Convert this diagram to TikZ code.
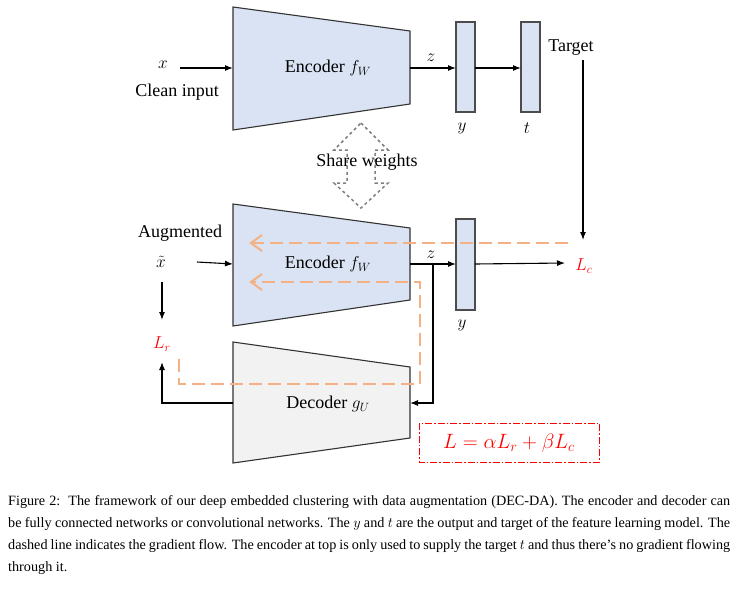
\documentclass[tikz,border=0pt]{standalone}
\usepackage{fontspec}
\setmainfont{Liberation Serif}
\usetikzlibrary{arrows.meta}
\definecolor{encb}{HTML}{DAE3F3}
\definecolor{decg}{HTML}{F2F2F2}
\definecolor{org}{HTML}{F4B183}
\begin{document}
\begin{tikzpicture}[x=1pt,y=-1pt,
  lbl/.style={font=\fontsize{18}{21}\selectfont,inner sep=1pt},
  arr/.style={-{Latex[length=8pt,width=6pt]},line width=1.1pt},
  od/.style={org,line width=2pt,dash pattern=on 13pt off 6pt},
  bar/.style={draw=black!70,fill=encb,line width=1.1pt}]
\useasboundingbox (0,0) rectangle (746,613);
% top encoder
\draw[fill=encb,draw=black!80,line width=1.1pt] (233,7) -- (410,31) -- (410,104) -- (233,130) -- cycle;
\node[lbl] (enc1) at (328,68) {Encoder $f_W$};
\draw[bar] (456,22) rectangle (475,112); \coordinate (y1l) at (456,68); \coordinate (y1r) at (475,68);
\draw[bar] (521,22) rectangle (540,112); \coordinate (t1l) at (521,68);
\node[lbl] (x1) at (163,65) {$x$};
\node[lbl] (ci) at (177,92) {Clean input};
\coordinate (e1l) at (233,68); \coordinate (e1r) at (410,68);
\draw[arr] (180,68) -- (e1l);
\draw[arr] (e1r) -- (y1l);
\node[lbl] (z1) at (431,58) {$z$};
\draw[arr] (y1r) -- (t1l);
\node[lbl] (y1) at (462,128) {$y$};
\node[lbl] (t1) at (527,128) {$t$};
\node[lbl] (tg) at (571,48) {Target};
% share weights
\draw[gray,dashed,line width=1.5pt] (361,123) -- (388,150) -- (375,150) -- (375,183) -- (388,183) -- (361,208) -- (334,183) -- (347,183) -- (347,150) -- (334,150) -- cycle;
\node[lbl,inner sep=0pt] (sw) at (367,162) {Share weights};
% bottom encoder
\draw[fill=encb,draw=black!80,line width=1.1pt] (233,204) -- (410,228) -- (410,300) -- (233,326) -- cycle;
\node[lbl] (enc2) at (328,264) {Encoder $f_W$};
\draw[fill=decg,draw=black!80,line width=1.1pt] (233,342) -- (410,367) -- (410,438) -- (233,463) -- cycle;
\node[lbl] (dec) at (328,404) {Decoder $g_U$};
\draw[bar] (456,219) rectangle (475,310);
\node[lbl] (y2) at (462,325) {$y$};
\node[lbl] (aug) at (180,233) {Augmented};
\node[lbl] (xt) at (161,262) {$\tilde{x}$};
\node[lbl,text=red] (lc) at (584,266) {$L_c$};
\node[lbl,text=red] (lr) at (162,344) {$L_r$};
\draw[arr] (197,262) -- (233,264);
\draw[arr] (410,264) -- (456,264);
\node[lbl] (z2) at (431,255) {$z$};
\draw[arr] (433,264) -- (433,403) -- (410,403);
\draw[arr] (475,264) -- (565,263);
\draw[arr] (583,60) -- (583,240);
\draw[arr] (162,282) -- (162,320);
\draw[arr] (233,403) -- (162,403) -- (162,362);
% gradient
\draw[od] (568,243) -- (252,243);
\draw[od] (179,359) -- (179,384) -- (420,384) -- (420,282) -- (252,282);
\foreach \yy in {243,282} \draw[org,line width=2pt] (262,\yy-8) -- (251,\yy) -- (262,\yy+8);
% loss box
\draw[red,line width=1pt,dash pattern=on 7pt off 2pt on 1.5pt off 2pt] (419,423) rectangle (599,462);
\node[lbl,text=red,font=\fontsize{21}{24}\selectfont] (L) at (509,443) {$L=\alpha L_r+\beta L_c$};
% caption
\node[anchor=north west,inner sep=0pt,text width=722pt,align=justify,font=\fontsize{14.2}{22.2}\selectfont] (cap) at (8,495) {\hangindent=45pt\hangafter=1 Figure 2:\ \ The framework of our deep embedded clustering with data augmentation (DEC-DA). The encoder and decoder can be fully connected networks or convolutional networks. The $y$ and $t$ are the output and target of the feature learning model. The dashed line indicates the gradient flow. The encoder at top is only used to supply the target $t$ and thus there's no gradient flowing through it.};
\end{tikzpicture}
\end{document}
